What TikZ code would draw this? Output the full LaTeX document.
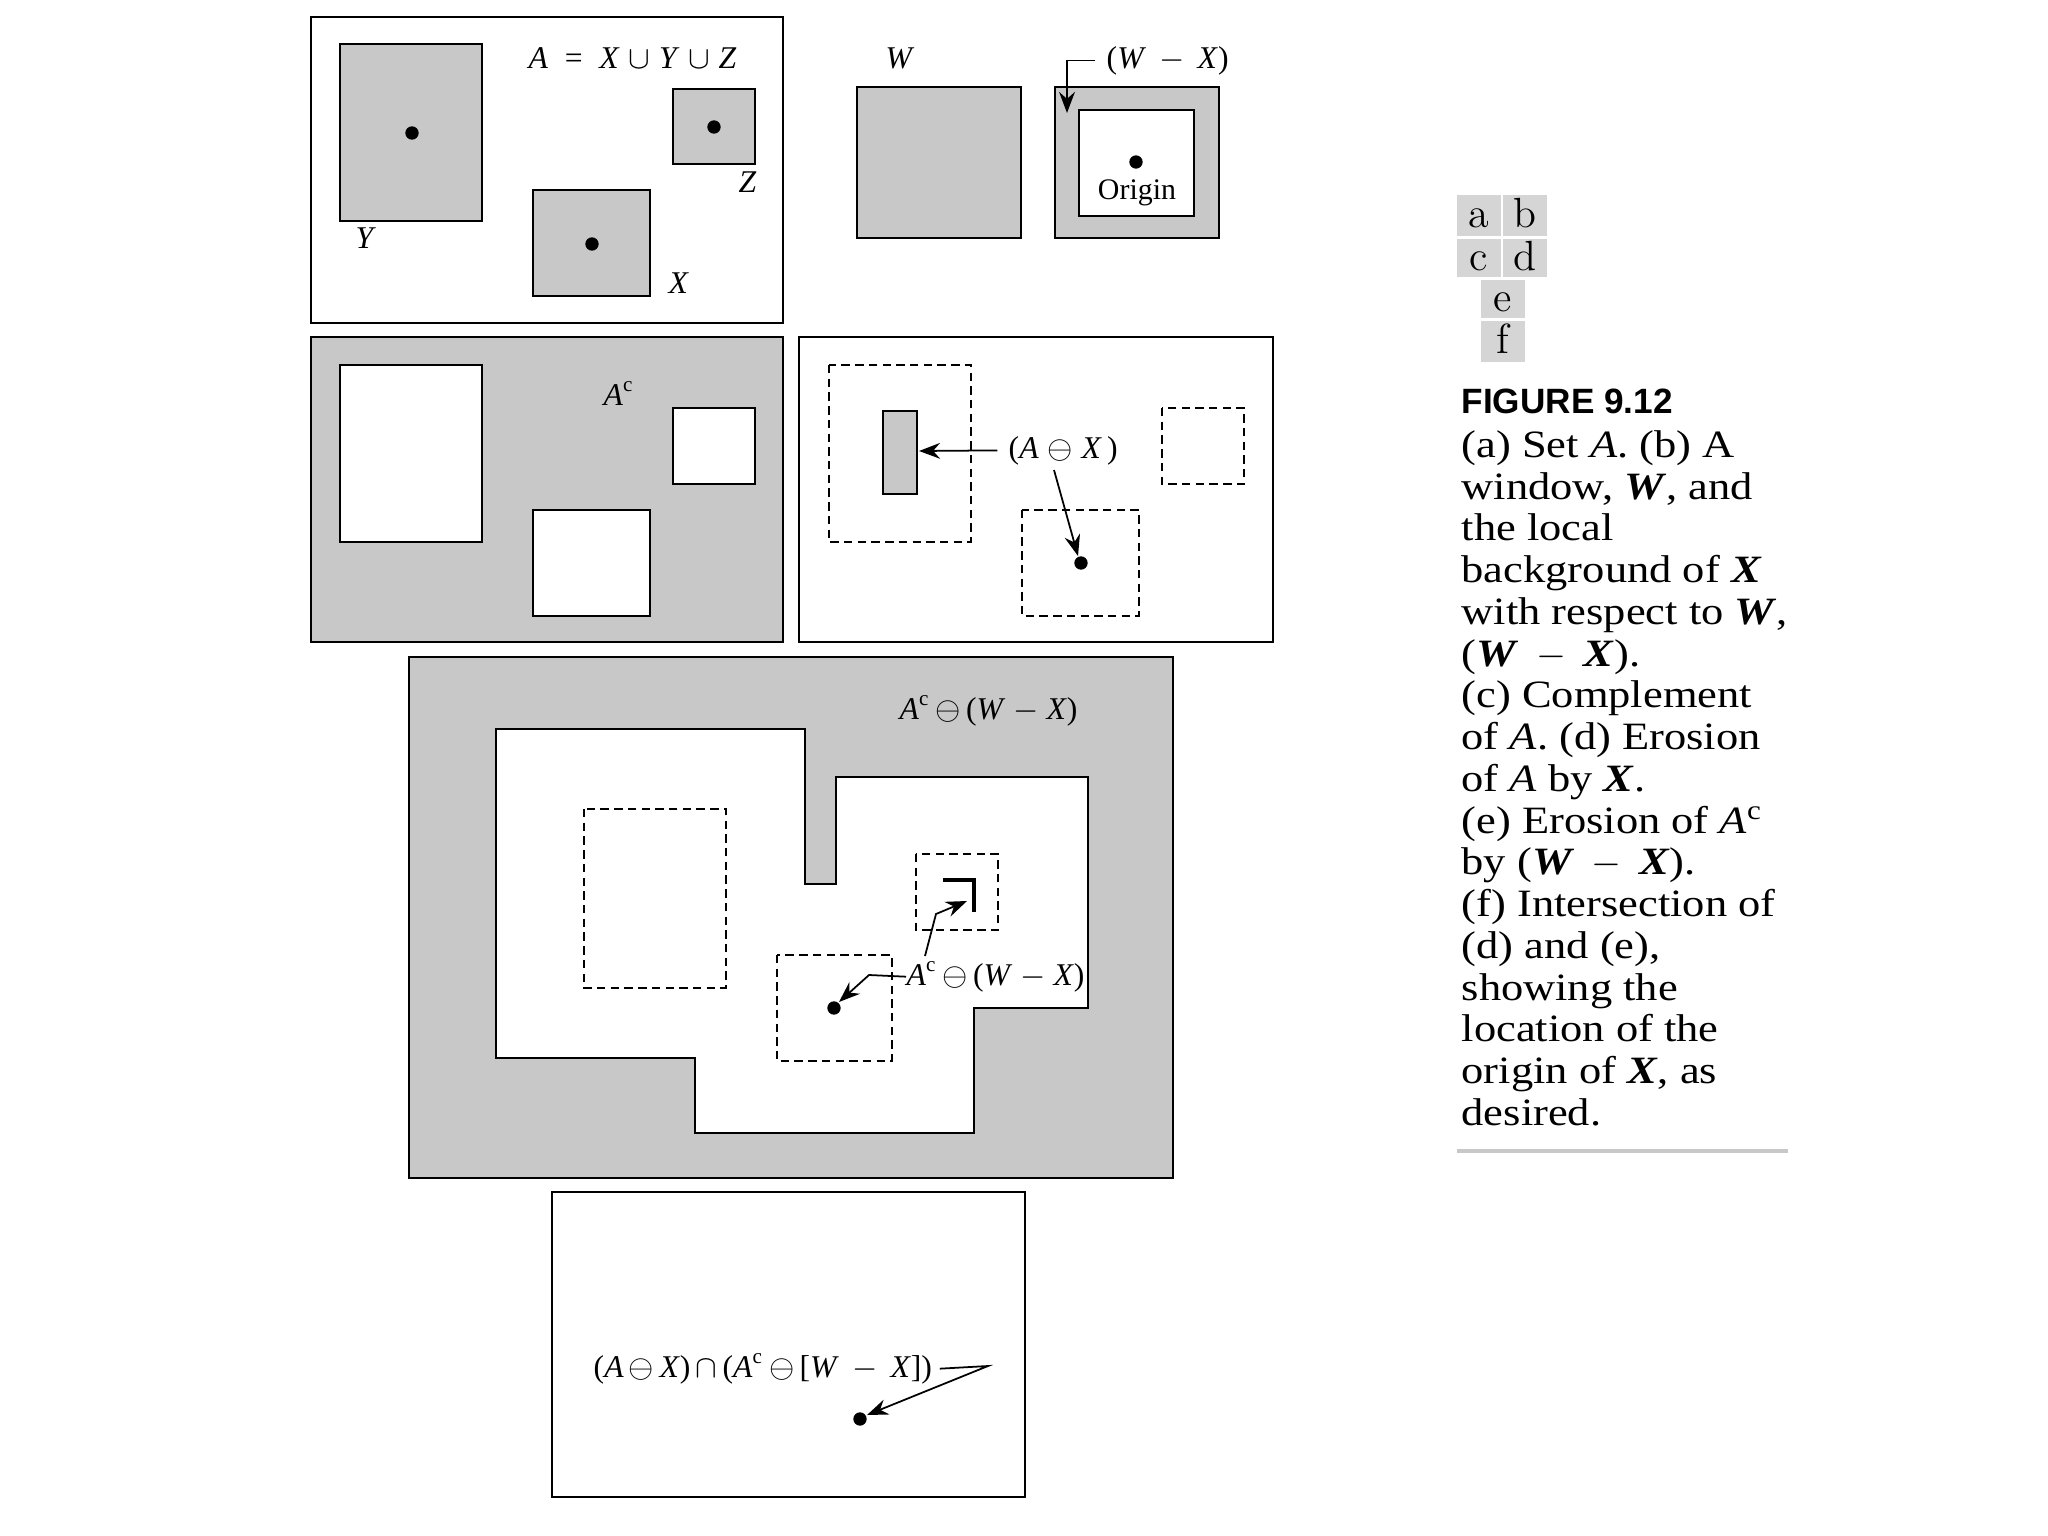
\documentclass[tikz,border=0pt]{standalone}
\usepackage{fontspec}
\usetikzlibrary{arrows.meta}
\newfontfamily\tms{Liberation Serif}
\newfontfamily\capfont[FakeStretch=1.15]{Liberation Serif}
\newfontfamily\figfont{Liberation Sans}
\definecolor{panelgray}{RGB}{200,200,200}
\definecolor{leggray}{RGB}{213,213,213}
\definecolor{rulegray}{RGB}{200,200,200}
\newcommand{\mv}[1]{\textit{#1}}
\newcommand{\bv}[1]{\textbf{\textit{#1}}}
\begin{document}
\begin{tikzpicture}[x=0.01cm,y=-0.01cm,
  frame/.style={draw=black,line width=0.7pt},
  shade/.style={fill=panelgray,draw=black,line width=0.7pt},
  hole/.style={fill=white,draw=black,line width=0.7pt},
  dsh/.style={draw=black,line width=0.7pt,dash pattern=on 2.4pt off 1.5pt},
  lbl/.style={inner sep=0pt,anchor=base west,font=\tms\fontsize{9}{10.5}\selectfont},
  arr/.style={-{Stealth[length=6pt,width=4.5pt,inset=2pt]},line width=0.5pt},
  leg/.style={fill=leggray,minimum width=0.44cm,minimum height=0.41cm,inner sep=0pt,text height=8pt,text depth=1pt,font=\fontsize{12}{14}\selectfont},
  capl/.style={inner sep=0pt,anchor=base west,font=\capfont\fontsize{11}{12}\selectfont}
]
\path[use as bounding box,fill=white] (0,0) rectangle (2048,1536);

% ---------- (a)
\draw[frame] (311,17) rectangle (783,323);
\filldraw[shade] (340,44) rectangle (482,221);
\filldraw[shade] (673,89) rectangle (755,164);
\filldraw[shade] (533,190) rectangle (650,296);
\fill (412,133) circle (1.9pt);
\fill (714,127) circle (1.9pt);
\fill (592,244) circle (1.9pt);
\node[lbl] (la) at (528,68) {\mv{A}\; = \;\mv{X}\;$\cup$\;\mv{Y}\;$\cup$\;\mv{Z}};
\node[lbl] (ly) at (355,248) {\mv{Y}};
\node[lbl] (lz) at (738,192) {\mv{Z}};
\node[lbl] (lx) at (668,293) {\mv{X}};

% ---------- (b)
\filldraw[shade] (857,87) rectangle (1021,238);
\node[lbl] (lw) at (885,68) {\mv{W}};
\filldraw[shade] (1055,87) rectangle (1219,238);
\filldraw[hole] (1079,110) rectangle (1194,216);
\fill (1136,162) circle (1.9pt);
\node[lbl,anchor=base,font=\tms\fontsize{8.5}{10}\selectfont] (orig) at (1137,199) {Origin};
\node[lbl] (lwx) at (1106,68) {(\mv{W}\, $-$ \,\mv{X})};
\coordinate (wxtip) at (1067,113);
\draw[arr] ([xshift=-3pt]lwx.west) -| (wxtip);

% ---------- (c)
\fill[panelgray] (311,337) rectangle (783,642);
\filldraw[hole] (340,365) rectangle (482,542);
\filldraw[hole] (673,408) rectangle (755,484);
\filldraw[hole] (533,510) rectangle (650,616);
\draw[frame] (311,337) rectangle (783,642);
\node[lbl] (lac) at (603,405) {\mv{A}\textsuperscript{c}};

% ---------- (d)
\draw[frame] (799,337) rectangle (1273,642);
\draw[dsh] (829,365) rectangle (971,542);
\filldraw[shade] (883,411) rectangle (917,494);
\draw[dsh] (1162,408) rectangle (1244,484);
\draw[dsh] (1022,510) rectangle (1139,616);
\fill (1081,563) circle (1.9pt);
\node[lbl] (lax) at (1008,458) {(\mv{A}\;$\ominus$\;\mv{X}\,)};
\coordinate (gre) at (919,451);
\coordinate (ds) at (1054,470);
\coordinate (dt) at (1078,556);
\draw[arr] ([xshift=-3pt]lax.west) -- (gre);
\draw[arr] (ds) -- (dt);

% ---------- (e)
\fill[panelgray] (409,657) rectangle (1173,1178);
\filldraw[hole] (496,729) -- (805,729) -- (805,884) -- (836,884) -- (836,777) -- (1088,777) -- (1088,1008) -- (974,1008) -- (974,1133) -- (695,1133) -- (695,1058) -- (496,1058) -- cycle;
\draw[frame] (409,657) rectangle (1173,1178);
\draw[dsh] (584,809) rectangle (726,988);
\draw[dsh] (916,854) rectangle (998,930);
\draw[dsh] (777,955) rectangle (892,1061);
\draw[line width=1.4pt] (943,880) -- (974,880) -- (974,912);
\fill (834,1008) circle (1.9pt);
\node[lbl] (le1) at (899,719) {\mv{A}\textsuperscript{c}\,$\ominus$\,(\mv{W} $-$ \mv{X})};
\node[lbl] (le2) at (906,985) {\mv{A}\textsuperscript{c}\,$\ominus$\,(\mv{W} $-$ \mv{X})};
\coordinate (ek) at (869,975);
\coordinate (et) at (839,1002);
\coordinate (es) at (925,956);
\coordinate (em) at (936,914);
\coordinate (eu) at (967,901);
\draw[arr] (le2.west) -- (ek) -- (et);
\draw[arr] (es) -- (em) -- (eu);

% ---------- (f)
\draw[frame] (552,1192) rectangle (1025,1497);
\node[lbl] (lf) at (593,1377) {(\mv{A}\,$\ominus$\,\mv{X})\,$\cap$\,(\mv{A}\textsuperscript{c}\,$\ominus$\,[\mv{W}\, $-$ \,\mv{X}])};
\fill (860,1419) circle (1.9pt);
\coordinate (fk) at (988,1366);
\coordinate (ft) at (867,1415);
\draw[arr] ([xshift=2pt]lf.east) -- (fk) -- (ft);

% ---------- legend
\node[leg] (ga) at (1479,215.5) {a};
\node[leg] (gb) at (1525,215.5) {b};
\node[leg,minimum height=0.38cm] (gc) at (1479,258) {c};
\node[leg,minimum height=0.38cm] (gd) at (1525,258) {d};
\node[leg,minimum height=0.38cm] (ge) at (1503,299) {e};
\node[leg] (gf) at (1503,341.5) {f};

% ---------- caption
\node[inner sep=0pt,anchor=base west,font=\figfont\bfseries\fontsize{10}{12}\selectfont] (fig) at (1461,413) {FIGURE 9.12};
\node[capl] (c1) at (1461,457) {(a) Set \mv{A}. (b) A};
\node[capl] (c2) at (1461,499) {window, \bv{W}, and};
\node[capl] (c3) at (1461,540.5) {the local};
\node[capl] (c4) at (1461,582) {background of \bv{X}};
\node[capl] (c5) at (1461,624) {with respect to \bv{W},};
\node[capl] (c6) at (1461,666) {(\bv{W}\, $-$ \,\bv{X}).};
\node[capl] (c7) at (1461,707.5) {(c) Complement};
\node[capl] (c8) at (1461,749) {of \mv{A}. (d) Erosion};
\node[capl] (c9) at (1461,791) {of \mv{A} by \bv{X}.};
\node[capl] (c10) at (1461,833) {(e) Erosion of \mv{A}\smash{\textsuperscript{c}}};
\node[capl] (c11) at (1461,874.5) {by (\bv{W}\, $-$ \,\bv{X}).};
\node[capl] (c12) at (1461,916) {(f) Intersection of};
\node[capl] (c13) at (1461,958) {(d) and (e),};
\node[capl] (c14) at (1461,1000) {showing the};
\node[capl] (c15) at (1461,1041.5) {location of the};
\node[capl] (c16) at (1461,1083) {origin of \bv{X}, as};
\node[capl] (c17) at (1461,1125) {desired.};
\draw[rulegray,line width=1.2pt] (1457,1151) -- (1788,1151);
\end{tikzpicture}
\end{document}
